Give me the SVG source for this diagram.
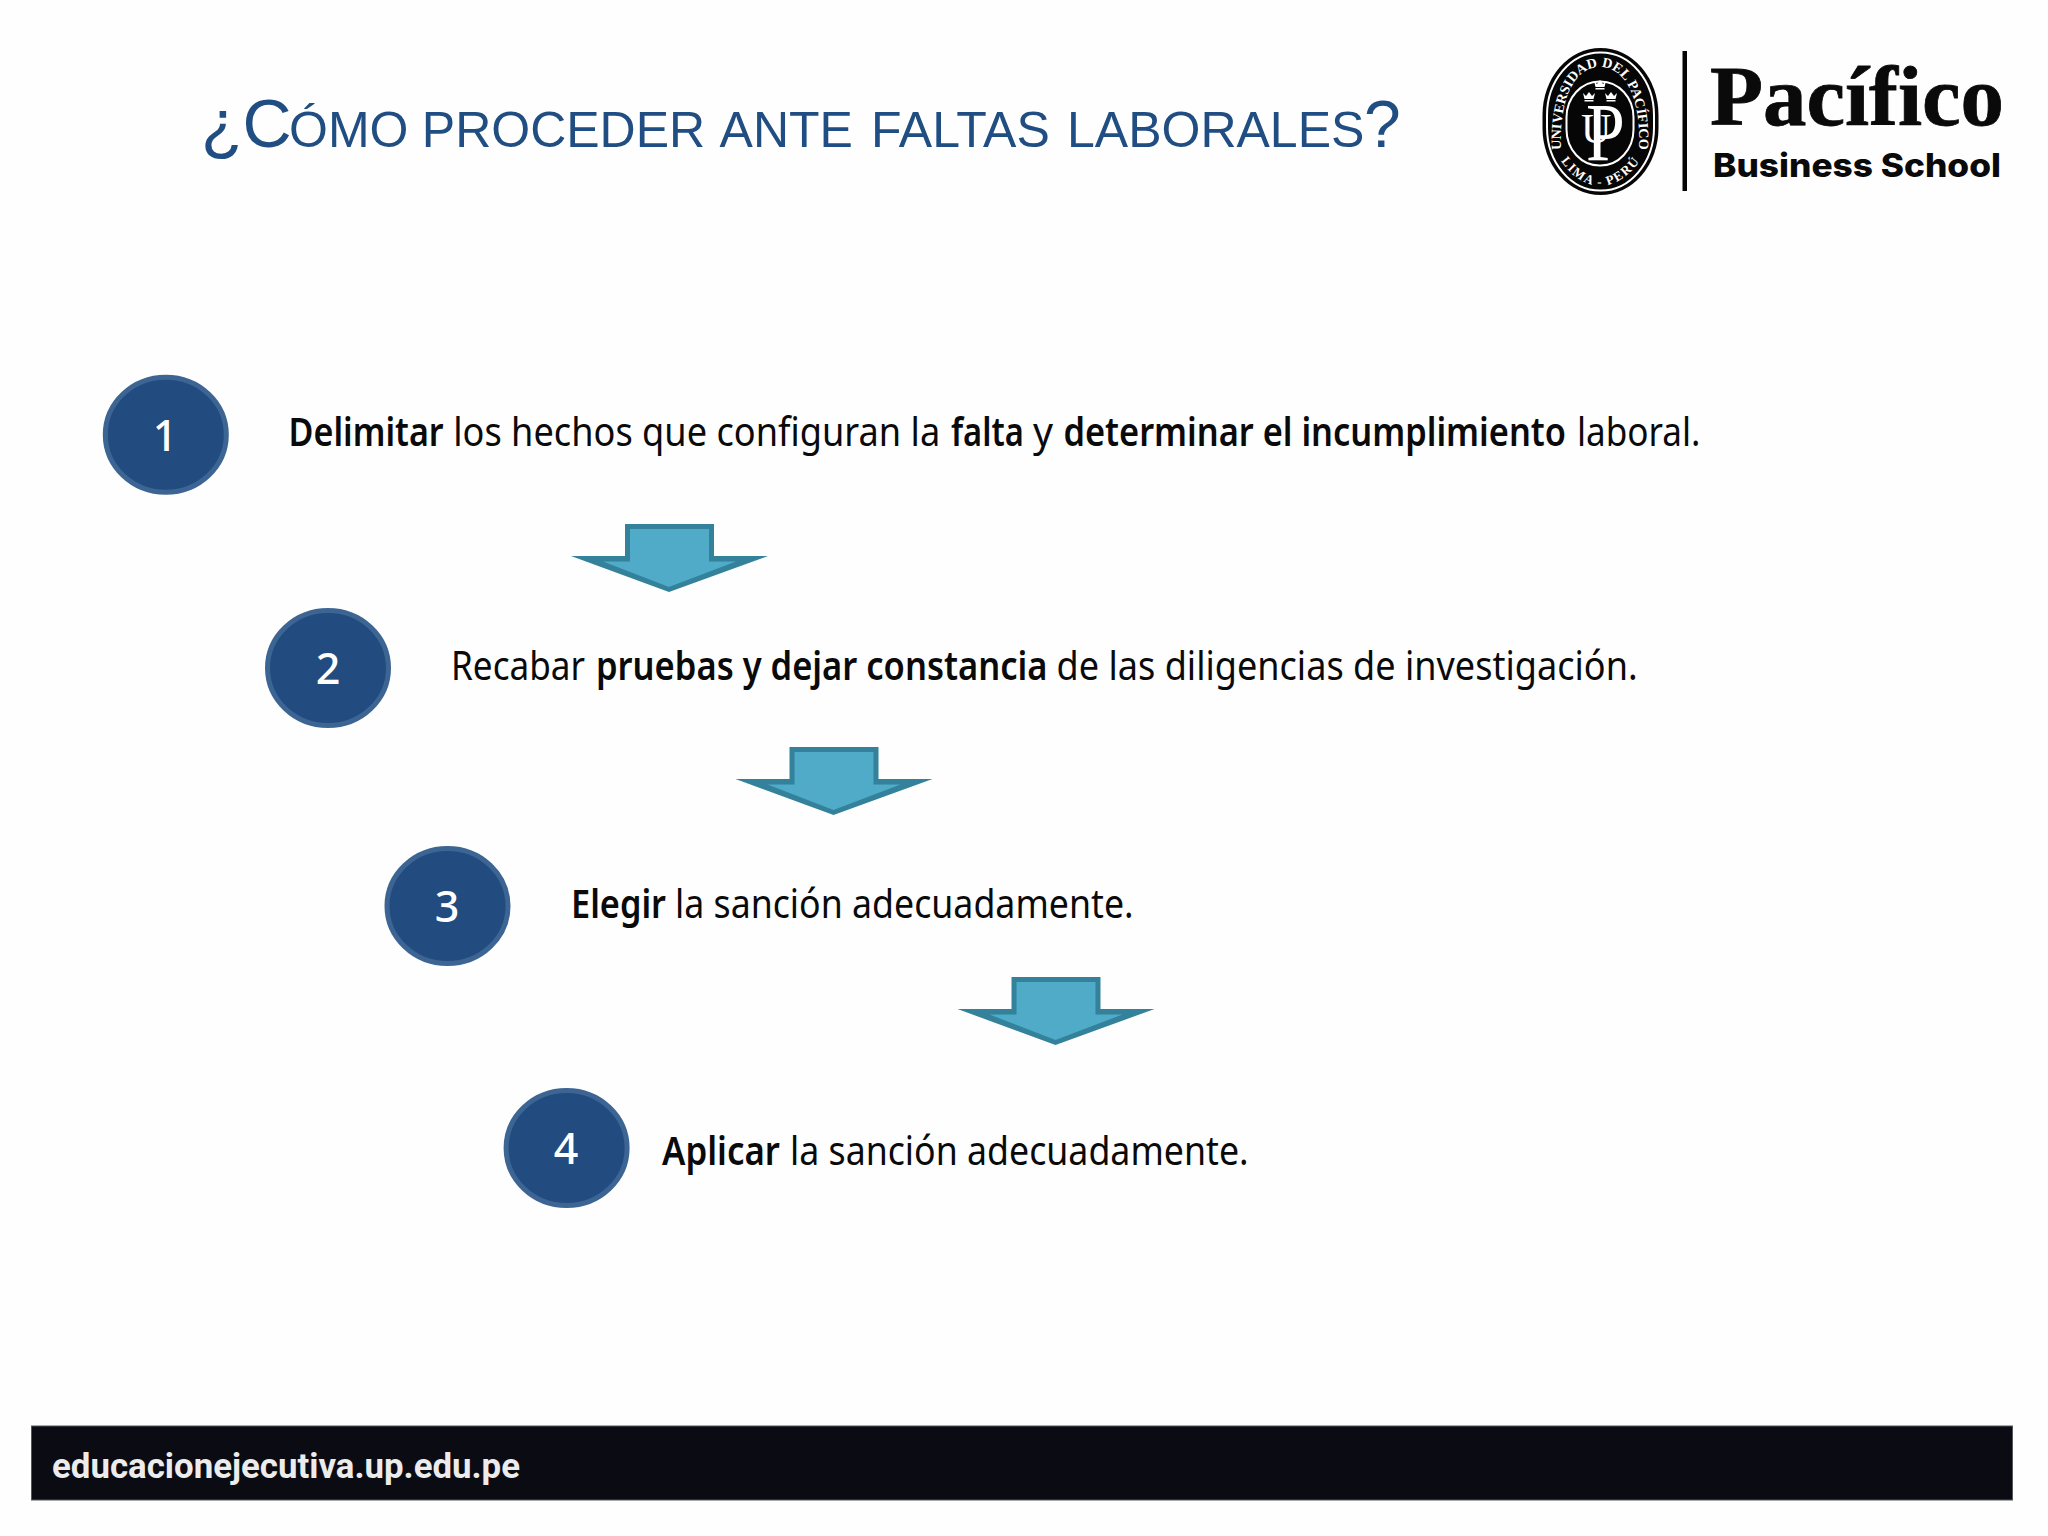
<svg xmlns="http://www.w3.org/2000/svg" width="2048" height="1536" viewBox="0 0 2048 1536">
<style>
.t{font-family:"Noto Sans","Open Sans",sans-serif;font-size:40px;fill:#0a0a0a;font-weight:400}
.b{font-weight:600}
.n{font-family:"Noto Sans","Open Sans",sans-serif;font-size:43px;font-weight:500;fill:#fff;text-anchor:middle}
.c{fill:#224c80;stroke:#3d6593;stroke-width:5}
.tt{font-family:"Liberation Sans",Arial,sans-serif;fill:#214e82}
.seal{font-family:"Liberation Serif",serif;fill:#fff}
</style>
<defs>
<g id="arrow"><polygon points="571,556 625,556 625,524 714,524 714,556 768,556 669,592" fill="#33819b"/><polygon points="603,561.5 630,561.5 630,529 709,529 709,561.5 736,561.5 669,587" fill="#4fabc8"/></g>
<path id="crown" d="M-6,-4 L-3,-1 L0,-5 L3,-1 L6,-4 L4.5,2 L-4.5,2 Z M-4.5,3 H4.5 V4.5 H-4.5 Z" fill="#fff"/>
<path id="sealTop" d="M1561,148 C1559,92 1578,67 1600,67 C1622,67 1641,92 1639,148"/>
<path id="sealBot" d="M1558,156 C1570,177 1588,186 1600,186 C1612,186 1631,177 1643,156"/>
</defs>
<rect width="2048" height="1536" fill="#fefefe"/>
<g id="title"><text class="tt" x="201" y="147" font-size="50"><tspan font-size="68">¿C</tspan><tspan x="289">ÓMO</tspan><tspan x="421.8">PROCEDER</tspan><tspan x="719.6">ANTE</tspan><tspan x="871">FALTAS</tspan><tspan x="1067">LABORALES</tspan><tspan x="1364" font-size="66">?</tspan></text></g>
<g id="logo">
<rect x="1542.5" y="48" width="116" height="147" rx="58" ry="67" fill="#060606"/>
<rect x="1547" y="52.5" width="107" height="138" rx="53" ry="63" fill="none" stroke="#fff" stroke-width="2"/>
<rect x="1566.5" y="81.5" width="67" height="84" rx="33" ry="36" fill="none" stroke="#fff" stroke-width="2"/>
<text class="seal" font-size="14" font-weight="700"><textPath href="#sealTop" startOffset="50%" text-anchor="middle">UNIVERSIDAD DEL PACÍFICO</textPath></text>
<text class="seal" font-size="13" font-weight="700" letter-spacing="1.5"><textPath href="#sealBot" startOffset="50%" text-anchor="middle">LIMA - PERÚ</textPath></text>
<use href="#crown" x="1600" y="85"/><use href="#crown" x="1589" y="97"/><use href="#crown" x="1611" y="97"/>
<text class="seal" font-size="82" transform="translate(1586 160) scale(.85 1)">P</text>
<text class="seal" font-size="42" x="1581" y="143">U</text>
<rect x="1682.5" y="51" width="4.5" height="140" fill="#060606"/>
<text x="1710" y="125" font-family="Liberation Serif,serif" font-weight="700" font-size="85" fill="#0a0a0a" stroke="#0a0a0a" stroke-width=".8" textLength="294" lengthAdjust="spacingAndGlyphs">Pacífico</text>
<text x="1713" y="177" font-family="Inter,sans-serif" font-weight="800" font-size="33" fill="#0a0a0a" textLength="288" lengthAdjust="spacingAndGlyphs">Business School</text>
</g>
<g id="connectors">
<use href="#arrow"/>
<use href="#arrow" x="164.5" y="223"/>
<use href="#arrow" x="386.5" y="453"/>
</g>
<g id="node1"><ellipse class="c" cx="165.8" cy="434.7" rx="60.5" ry="57.5"/><text class="n" x="165" y="451">1</text>
<text class="t b" x="288.6" y="446" textLength="155" lengthAdjust="spacingAndGlyphs">Delimitar</text>
<text class="t" x="453.2" y="446" textLength="487" lengthAdjust="spacingAndGlyphs">los hechos que configuran la</text>
<text class="t b" x="951" y="446" textLength="72.7" lengthAdjust="spacingAndGlyphs">falta</text>
<text class="t" x="1033" y="446" textLength="20" lengthAdjust="spacingAndGlyphs">y</text>
<text class="t b" x="1063.5" y="446" textLength="502.5" lengthAdjust="spacingAndGlyphs">determinar el incumplimiento</text>
<text class="t" x="1577" y="446" textLength="123.5" lengthAdjust="spacingAndGlyphs">laboral.</text></g>
<g id="node2"><ellipse class="c" cx="328" cy="668" rx="60.5" ry="57.5"/><text class="n" x="328" y="684">2</text>
<text class="t" x="451" y="679.5" textLength="134" lengthAdjust="spacingAndGlyphs">Recabar</text>
<text class="t b" x="596" y="679.5" textLength="451.5" lengthAdjust="spacingAndGlyphs">pruebas y dejar constancia</text>
<text class="t" x="1056.6" y="679.5" textLength="581" lengthAdjust="spacingAndGlyphs">de las diligencias de investigación.</text></g>
<g id="node3"><ellipse class="c" cx="447.5" cy="906" rx="60.5" ry="57.5"/><text class="n" x="447" y="922">3</text>
<text class="t b" x="571" y="918" textLength="95" lengthAdjust="spacingAndGlyphs">Elegir</text>
<text class="t" x="675" y="918" textLength="458.6" lengthAdjust="spacingAndGlyphs">la sanción adecuadamente.</text></g>
<g id="node4"><ellipse class="c" cx="566.6" cy="1148" rx="60.5" ry="57.5"/><text class="n" x="566" y="1164">4</text>
<text class="t b" x="662" y="1165" textLength="118" lengthAdjust="spacingAndGlyphs">Aplicar</text>
<text class="t" x="790" y="1165" textLength="458.6" lengthAdjust="spacingAndGlyphs">la sanción adecuadamente.</text></g>
<g id="footer"><rect x="31.5" y="1426" width="1981" height="74" fill="#0b0b14" stroke="#55555c" stroke-width="1"/>
<text x="52" y="1478" font-family="Roboto,sans-serif" font-weight="700" font-size="35" fill="#ececec" textLength="468" lengthAdjust="spacingAndGlyphs">educacionejecutiva.up.edu.pe</text></g>
</svg>
